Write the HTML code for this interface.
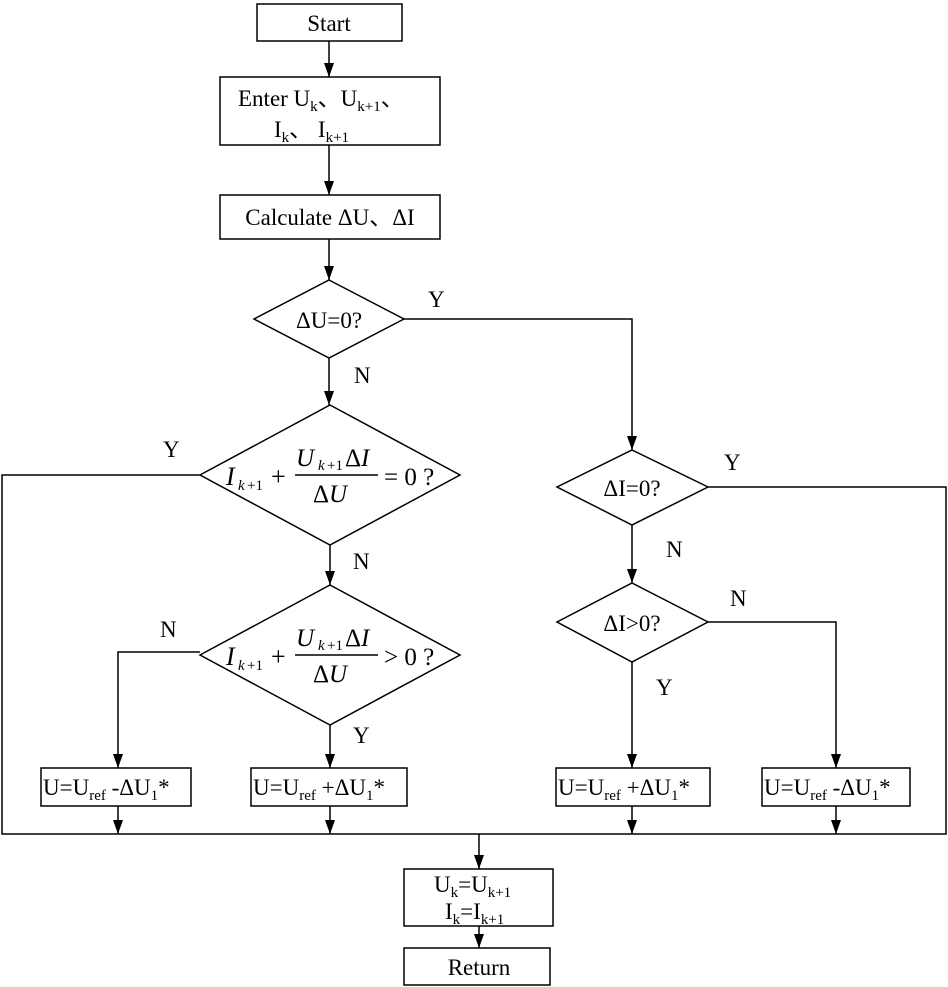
<!DOCTYPE html>
<html><head><style>body{margin:0;background:#fff}svg{display:block;font-family:"Liberation Serif",serif;font-size:23px}text{fill:#000}</style></head><body>
<svg width="948" height="987" viewBox="0 0 948 987">
<defs>
<marker id="d" markerWidth="10" markerHeight="14" refX="5" refY="14" markerUnits="userSpaceOnUse"><path d="M0,0L10,0L5,14z" fill="#000"/></marker></defs>
<g fill="none" stroke="#000" stroke-width="1.5">
<rect x="257" y="4" width="145" height="37"/>
<rect x="220" y="77" width="220" height="68"/>
<rect x="220" y="195" width="220" height="44"/>
<polygon points="329,280 404,319 329,358 254,319"/>
<polygon points="330,405 460,475 330,545 200,475"/>
<polygon points="330,585 460,655 330,725 200,655"/>
<polygon points="632,450 708,487 632,525 557,487"/>
<polygon points="632,583 708,622 632,662 557,622"/>
<rect x="41" y="768" width="150" height="38"/>
<rect x="251" y="768" width="156" height="38"/>
<rect x="556" y="768" width="154" height="38"/>
<rect x="762" y="768" width="148" height="38"/>
<rect x="404" y="869" width="149" height="57"/>
<rect x="404" y="948" width="146" height="37"/>
<g marker-end="url(#d)">
<path d="M329,41V77"/><path d="M329,145V195"/><path d="M329,239V280"/>
<path d="M329,358V405"/><path d="M330,545V585"/><path d="M330,725V768"/>
<path d="M404,319H632V450"/><path d="M632,525V583"/><path d="M632,662V768"/>
<path d="M200,652H118V768"/><path d="M708,622H836V768"/>
<path d="M118,806V834"/><path d="M330,806V834"/><path d="M632,806V834"/><path d="M836,806V834"/>
<path d="M479,834V869"/><path d="M479,926V948"/>
</g>
<path d="M200,475H2V834H946V487H708"/>
</g>
<text x="329" y="31" text-anchor="middle">Start</text>
<text x="238" y="106">Enter  U<tspan font-size="15" dy="5">k</tspan><tspan dy="-5">、U</tspan><tspan font-size="15" dy="5">k+1</tspan><tspan dy="-5">、</tspan></text>
<text x="274" y="137">I<tspan font-size="15" dy="5">k</tspan><tspan dy="-5">、 I</tspan><tspan font-size="15" dy="5">k+1</tspan></text>
<text x="330" y="225" text-anchor="middle">Calculate ΔU、ΔI</text>
<text x="329" y="328" text-anchor="middle">ΔU=0?</text>
<text x="632" y="496" text-anchor="middle">ΔI=0?</text>
<text x="632" y="631" text-anchor="middle">ΔI&gt;0?</text>
<g>
<text x="226" y="485" font-size="26" font-style="italic">I</text>
<text x="238" y="490" font-size="15" font-style="italic">k</text><text x="247" y="490" font-size="15">+1</text>
<text x="271" y="485" font-size="26">+</text>
<text x="296" y="466" font-size="25" font-style="italic">U</text>
<text x="318" y="470" font-size="15" font-style="italic">k</text><text x="327" y="470" font-size="15">+1</text>
<text x="345" y="466" font-size="25">Δ</text><text x="361" y="466" font-size="25" font-style="italic">I</text>
<text x="313" y="502" font-size="25">Δ</text><text x="329" y="502" font-size="25" font-style="italic">U</text>
<text x="384" y="485" font-size="25">= 0 ?</text>

<text x="226" y="665" font-size="26" font-style="italic">I</text>
<text x="238" y="670" font-size="15" font-style="italic">k</text><text x="247" y="670" font-size="15">+1</text>
<text x="271" y="665" font-size="26">+</text>
<text x="296" y="646" font-size="25" font-style="italic">U</text>
<text x="318" y="650" font-size="15" font-style="italic">k</text><text x="327" y="650" font-size="15">+1</text>
<text x="345" y="646" font-size="25">Δ</text><text x="361" y="646" font-size="25" font-style="italic">I</text>
<text x="313" y="682" font-size="25">Δ</text><text x="329" y="682" font-size="25" font-style="italic">U</text>
<text x="384" y="665" font-size="25">&gt; 0 ?</text>
</g>
<path d="M295,475H378M295,655H378" stroke="#000" stroke-width="1.5"/>
<text x="43" y="795">U=U<tspan font-size="15" dy="5">ref</tspan><tspan dy="-5"> -ΔU</tspan><tspan font-size="15" dy="5">1</tspan><tspan dy="-5">*</tspan></text>
<text x="253" y="795">U=U<tspan font-size="15" dy="5">ref</tspan><tspan dy="-5"> +ΔU</tspan><tspan font-size="15" dy="5">1</tspan><tspan dy="-5">*</tspan></text>
<text x="558" y="795">U=U<tspan font-size="15" dy="5">ref</tspan><tspan dy="-5"> +ΔU</tspan><tspan font-size="15" dy="5">1</tspan><tspan dy="-5">*</tspan></text>
<text x="764" y="795">U=U<tspan font-size="15" dy="5">ref</tspan><tspan dy="-5"> -ΔU</tspan><tspan font-size="15" dy="5">1</tspan><tspan dy="-5">*</tspan></text>
<text x="434" y="892">U<tspan font-size="15" dy="5">k</tspan><tspan dy="-5">=U</tspan><tspan font-size="15" dy="5">k+1</tspan></text>
<text x="445" y="919">I<tspan font-size="15" dy="5">k</tspan><tspan dy="-5">=I</tspan><tspan font-size="15" dy="5">k+1</tspan></text>
<text x="479" y="975" text-anchor="middle">Return</text>
<text x="428" y="307">Y</text><text x="354" y="383">N</text>
<text x="163" y="457">Y</text><text x="353" y="569">N</text>
<text x="160" y="637">N</text><text x="353" y="743">Y</text>
<text x="724" y="470">Y</text><text x="666" y="557">N</text>
<text x="730" y="606">N</text><text x="656" y="695">Y</text>
</svg></body></html>
